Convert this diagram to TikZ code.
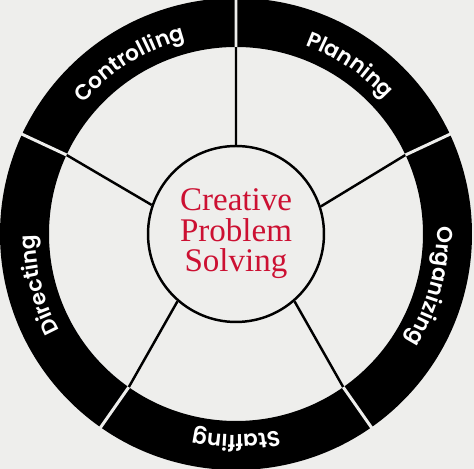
\documentclass[tikz,border=0pt]{standalone}
\usepackage{fontspec}
\setmainfont{Liberation Serif}
\newfontfamily\ringfont{Poppins}[UprightFont={* SemiBold}]
\usetikzlibrary{decorations.text, calc, positioning}

\definecolor{paper}{RGB}{238,238,236}
\definecolor{hubred}{RGB}{204,16,50}
\newcommand{\ringtype}{\ringfont\fontsize{12.3pt}{14pt}\selectfont}

\tikzset{
  spoke/.style={line width=1.4pt, black},
  gap/.style={line width=1.7pt, paper},
  ringlabel/.style={decorate, decoration={text along path, text align=center, text color=white}}
}

\begin{document}
\begin{tikzpicture}[x=0.02cm, y=0.02cm]
  \useasboundingbox[fill=paper] (-236,-235) rectangle (238,234);

  % black ring
  \fill[black, even odd rule] (0,0) circle[radius=236] (0,0) circle[radius=187];

  \node[circle, draw, fill=paper, line width=1.4pt, minimum size=3.52cm, inner sep=0pt,
        text=hubred, align=center, font=\fontsize{18.8pt}{17.4pt}\selectfont] (hub) at (0,0) {Creative\\Problem\\Solving};

  \coordinate (rim1) at (90:187);   \coordinate (edge1) at (90:240);
  \coordinate (rim2) at (25:187);   \coordinate (edge2) at (25:240);
  \coordinate (rim3) at (-55:187);  \coordinate (edge3) at (-55:240);
  \coordinate (rim4) at (235:187);  \coordinate (edge4) at (235:240);
  \coordinate (rim5) at (155:187);  \coordinate (edge5) at (155:240);

  \draw[spoke]
  (hub.90) -- (rim1)
  (hub.18.5) -- (rim2)
  (hub.311) -- (rim3)
  (hub.229) -- (rim4)
  (hub.161.5) -- (rim5);

  \draw[gap]
  (rim1) -- (edge1)
  (rim2) -- (edge2)
  (rim3) -- (edge3)
  (rim4) -- (edge4)
  (rim5) -- (edge5);

  \path[ringlabel, decoration={text={|\ringtype|Controlling}}] (162:201) arc[start angle=162, end angle=82, radius=201];
  \path[ringlabel, decoration={text={|\ringtype|Planning}}] (96:201) arc[start angle=96, end angle=16, radius=201];
  \path[ringlabel, decoration={text={|\ringtype|Organizing}}] (25:201) arc[start angle=25, end angle=-55, radius=201];
  \path[ringlabel, decoration={text={|\ringtype|Staffing}}] (-50:201) arc[start angle=-50, end angle=-130, radius=201];
  \path[ringlabel, decoration={text={|\ringtype|Directing}}] (234.5:201) arc[start angle=234.5, end angle=154.5, radius=201];
\end{tikzpicture}
\end{document}
